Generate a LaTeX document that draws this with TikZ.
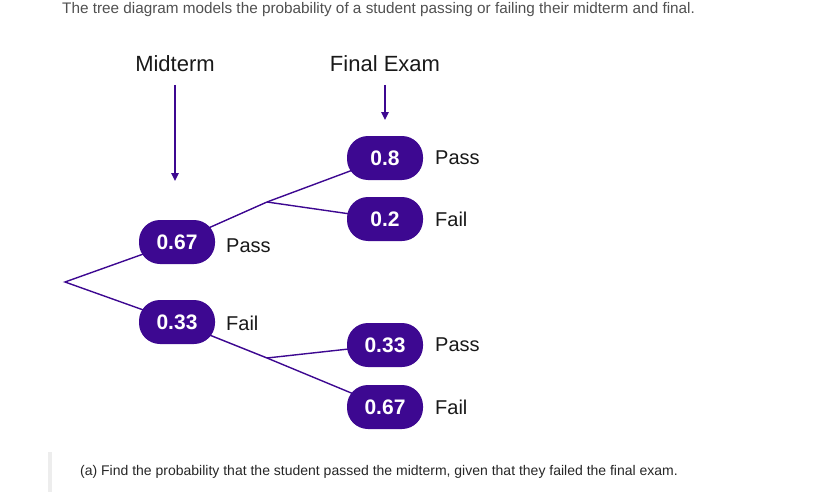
\documentclass[tikz,border=0pt]{standalone}
\usepackage{fontspec}
\setmainfont{Liberation Sans}
\usetikzlibrary{arrows.meta,backgrounds}
\definecolor{treepurple}{RGB}{61,8,145}
\definecolor{titlegray}{RGB}{80,80,80}

\begin{document}
\begin{tikzpicture}[x=1pt,y=-1pt,
	prob/.style={fill=treepurple, text=white, rounded corners=21pt, minimum width=76pt, minimum height=44pt, inner sep=0pt, font=\fontsize{21}{23}\selectfont\bfseries},
	outcome/.style={anchor=west, inner sep=0pt, text=black!90, font=\fontsize{20}{22}\selectfont},
	head/.style={text=black!90, font=\fontsize{22}{24}\selectfont},
	branch/.style={draw=treepurple, line width=1.4pt},
	small/.style={anchor=west, inner sep=0pt}]
	%%%%% START %%%%%
	\useasboundingbox (0,0) rectangle (834,492);
	
	\node[small, text=titlegray, font=\fontsize{15.3}{17}\selectfont] (title) at (62,10) {The tree diagram models the probability of a student passing or failing their midterm and final.};
	
	\node[head] (midterm) at (175,64) {Midterm};
	\node[head] (final) at (385,64) {Final Exam};
	\coordinate (midend) at (175,181);
	\coordinate (finend) at (385,120);
	\draw[branch, -{Triangle[width=7.5pt,length=8pt]}] (175,85) -- (midend);
	\draw[branch, -{Triangle[width=7.5pt,length=8pt]}] (385,85) -- (finend);
	
	\coordinate (root) at (65,282);
	\coordinate (b1) at (267,202);
	\coordinate (b2) at (267,358);
	
	\node[prob] (m1) at (177,242) {0.67};
	\node[outcome] (m1l) at (226,246) {Pass};
	\node[prob] (m2) at (177,322) {0.33};
	\node[outcome] (m2l) at (226,323) {Fail};
	
	\node[prob] (f1) at (385,158) {0.8};
	\node[outcome] (f1l) at (435,158) {Pass};
	\node[prob] (f2) at (385,219) {0.2};
	\node[outcome] (f2l) at (435,219) {Fail};
	\node[prob] (f3) at (385,345) {0.33};
	\node[outcome] (f3l) at (435,345) {Pass};
	\node[prob] (f4) at (385,407) {0.67};
	\node[outcome] (f4l) at (435,407) {Fail};
	
	\begin{pgfonlayer}{background}
		\draw[branch] (m1.center) -- (root) -- (m2.center);
		\draw[branch] (m1.center) -- (b1) -- (f1.center);
		\draw[branch] (b1) -- (f2.center);
		\draw[branch] (m2.center) -- (b2) -- (f3.center);
		\draw[branch] (b2) -- (f4.center);
	\end{pgfonlayer}
	
	\fill[black!7] (48,452) rectangle (52,492);
	\node[small, text=black!85, font=\fontsize{14}{16}\selectfont] (question) at (80,472) {(a) Find the probability that the student passed the midterm, given that they failed the final exam.};
	%%%%% END %%%%%
\end{tikzpicture}
\end{document}
